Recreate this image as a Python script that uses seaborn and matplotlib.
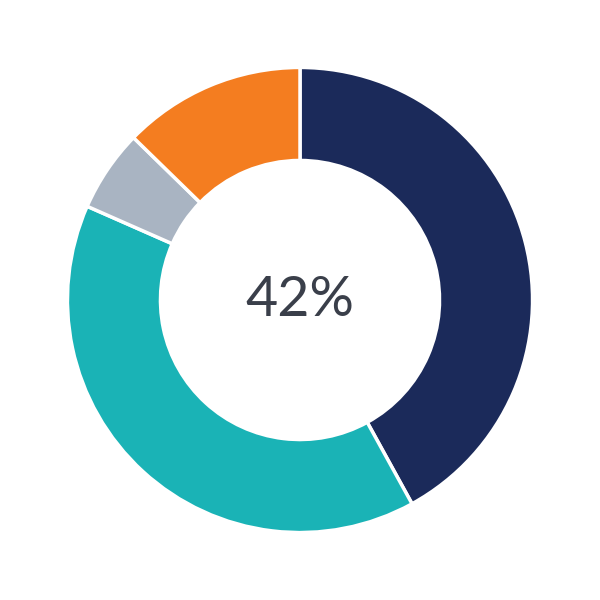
import matplotlib
matplotlib.use("Agg")
import matplotlib.pyplot as plt
import seaborn as sns

# Daten
labels = ["Navy", "Teal", "Grau", "Orange"]
werte = [42, 39.6, 5.7, 12.7]
farben = ["#1b2a5a", "#1ab3b6", "#a9b4c2", "#f47d20"]
mitte_text = "42%"

sns.set_theme(style="white")
plt.rcParams["font.family"] = ["Lato", "DejaVu Sans"]

fig, ax = plt.subplots(figsize=(6, 6), dpi=100)
ax.pie(
    werte,
    colors=farben,
    startangle=90,
    counterclock=False,
    radius=1.0,
    wedgeprops={"width": 0.4, "edgecolor": "white", "linewidth": 2.5},
)
ax.text(0, 0, mitte_text, ha="center", va="center", fontsize=40,
        color="#3a3f4a", fontweight="normal")
ax.set_aspect("equal")
ax.set_xlim(-1.29, 1.29)
ax.set_ylim(-1.29, 1.29)
ax.axis("off")
fig.subplots_adjust(left=0, right=1, top=1, bottom=0)
fig.savefig("out.png", facecolor="white")
plt.close(fig)
